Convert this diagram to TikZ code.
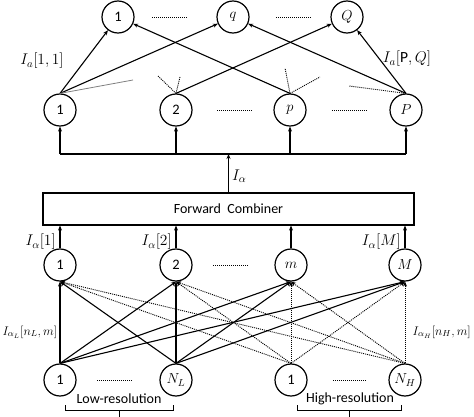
\documentclass[tikz,border=0pt]{standalone}
\usepackage{fix-cm}
\usepackage{fontspec}
\setmainfont{Carlito}
\setsansfont{Carlito}
\usetikzlibrary{arrows.meta}
\begin{document}
\begin{tikzpicture}[x=1pt,y=-1pt,
 neuron/.style={circle,draw,line width=1.2pt,minimum size=32pt,inner sep=0pt,font=\fontsize{14.5}{16}\selectfont},
 conn/.style={line width=1.1pt,-{Stealth[length=5pt,width=4pt]}},
 dconn/.style={line width=0.9pt,dash pattern=on 1pt off 1pt,-{Stealth[length=5pt,width=4pt]}},
 sep/.style={line width=0.9pt,dash pattern=on 1pt off 1pt},
 lbl/.style={font=\fontsize{15.5}{17}\selectfont,inner sep=1pt},
 slbl/.style={font=\fontsize{12.5}{14}\selectfont,inner sep=0.5pt},
 txt/.style={font=\fontsize{14}{16}\selectfont,inner sep=1pt},
 brace/.style={line width=1pt}]
\useasboundingbox (0,0) rectangle (474,417);
% top layer
\node[neuron] (T1) at (118,17) {1};
\node[neuron] (Tq) at (233,17) {$q$};
\node[neuron] (TQ) at (347,17) {$Q$};
% second layer
\node[neuron] (R1) at (60,110) {1};
\node[neuron] (R2) at (176,110) {2};
\node[neuron] (Rp) at (290,110) {$p$};
\node[neuron] (RP) at (406,110) {$P$};
% combiner
\node[draw,line width=1.2pt,minimum width=371pt,minimum height=32pt,inner sep=0pt,txt] (comb) at (228.5,209) {Forward\ \ Combiner};
\coordinate (bus) at (228.5,154);
% third layer
\node[neuron] (S1) at (60,265) {1};
\node[neuron] (S2) at (176,265) {2};
\node[neuron] (Sm) at (291,265) {$m$};
\node[neuron] (SM) at (405,265) {$M$};
% bottom layer
\node[neuron] (B1) at (60,380) {1};
\node[neuron] (BL) at (176,380) {$N_L$};
\node[neuron] (BH) at (291,380) {1};
\node[neuron] (BN) at (405,380) {$N_H$};

% top connections
\draw[conn] (R1.north) -- (T1);
\draw[conn] (R1.north) -- (Tq);
\draw[conn] (R2.north) -- (TQ);
\draw[conn] (Rp.north) -- (T1);
\draw[conn] (RP.north) -- (Tq);
\draw[conn] (RP.north) -- (TQ);
\coordinate (g1) at (133,80);
\draw[gray,line width=0.8pt] (R1.north) -- (g1);
\coordinate (d1) at (158,76);
\coordinate (d2) at (180,77);
\coordinate (d3) at (285,68);
\coordinate (d4) at (320,77);
\coordinate (d5) at (349,86);
\draw[sep] (R2.north) -- (d1);
\draw[sep] (R2.north) -- (d2);
\draw[sep] (Rp.north) -- (d3);
\draw[sep] (Rp.north) -- (d4);
\draw[sep] (RP.north) -- (d5);

% bus
\draw[line width=1.1pt] (R1 |- bus) -- (RP |- bus);
\foreach \n in {R1,R2,Rp,RP} \draw[conn] (\n |- bus) -- (\n.south);
\draw[conn] (comb.north) -- (bus);
\node[lbl,anchor=west] (la) at (231,176) {$I_\alpha$};

% third layer to combiner
\foreach \n in {S1,S2,Sm,SM} \draw[conn] (\n.north) -- (\n.north |- comb.south);
\node[lbl,anchor=east] at (57,242) {$I_\alpha[1]$};
\node[lbl,anchor=east] at (173,242) {$I_\alpha[2]$};
\node[lbl,anchor=east] at (402,242) {$I_\alpha[M]$};

% bottom connections
\foreach \s in {S1,S2,Sm,SM} {
  \draw[conn] (B1.north) -- (\s.south);
  \draw[conn] (BL.north) -- (\s.south);
  \draw[dconn] (BH.north) -- (\s.south);
  \draw[dconn] (BN.north) -- (\s.south);
}

% separators
\draw[sep] (152,17) -- (188,17);
\draw[sep] (276,17) -- (312,17);
\draw[sep] (217,110) -- (252,110);
\draw[sep] (332,110) -- (367,110);
\draw[sep] (213,265) -- (249,265);
\draw[sep] (97,380) -- (133,380);
\draw[sep] (333,380) -- (367,380);

% labels
\node[lbl] at (42,61) {$I_a[1,1]$};
\node[lbl] at (407,59) {$I_a[\mathrm{P},Q]$};
\node[slbl,anchor=east] at (58,332) {$I_{\alpha_L}[n_L,m]$};
\node[slbl,anchor=west] at (412,332) {$I_{\alpha_H}[n_H,m]$};
\node[txt] at (119,399) {Low-resolution};
\node[txt] at (350,399) {High-resolution};

% braces
\draw[brace] (65,405) -- (65,410) -- (173,410) -- (173,405);
\draw[brace] (119,410) -- (119,417);
\draw[brace] (297,405) -- (297,410) -- (401,410) -- (401,405);
\draw[brace] (349,410) -- (349,417);
\end{tikzpicture}
\end{document}
